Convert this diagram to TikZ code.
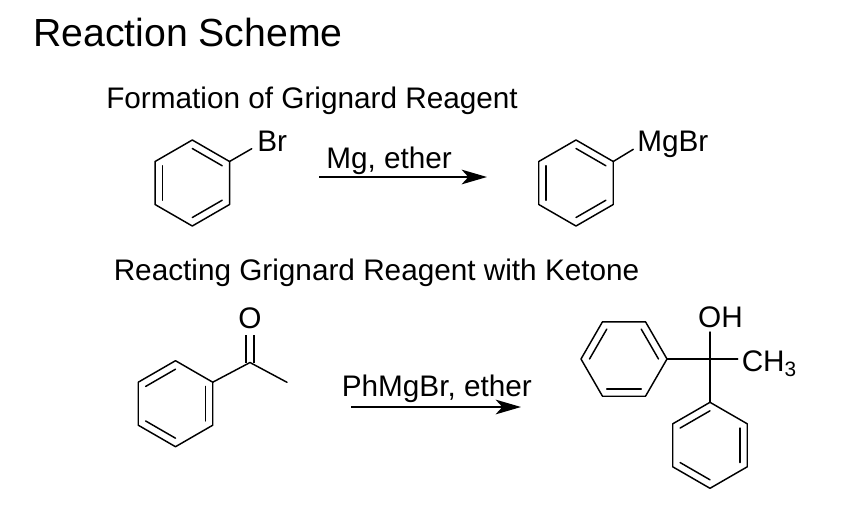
\documentclass[tikz,border=0pt]{standalone}
\usepackage{fontspec}
\setmainfont{Liberation Sans}
\usetikzlibrary{arrows.meta,calc}

% six-membered ring: name, start angle, inner double bonds
\newcommand{\phring}[3]{
\foreach \i in {1,...,6} {
\coordinate (#1\i) at ($(#1)+(#2+60*\i:43)$);
\coordinate (#1i\i) at ($(#1)+(#2+60*\i:34.5)$);
}
\draw[bond] (#11)--(#12)--(#13)--(#14)--(#15)--(#16)--cycle;
\foreach \i/\j in {#3} \draw[bond] (#1i\i)--(#1i\j);
}

\begin{document}
\begin{tikzpicture}
[x=.75pt,y=-.75pt,
bond/.style={line width=1.1pt,line cap=round,line join=round},
reaction/.style={line width=1.5pt,-{Stealth[length=19pt,width=11pt,inset=5pt]}},
label/.style={inner sep=0pt,anchor=base west,font=\fontsize{22.3pt}{26pt}\selectfont},
heading/.style={label},
title/.style={inner sep=0pt,anchor=base west,font=\fontsize{29.4pt}{34pt}\selectfont}]
\useasboundingbox (0,0) rectangle (854,522);

\node[title] (scheme) at (33,46) {Reaction Scheme};
\node[heading] (formation) at (106,108) {Formation of Grignard Reagent};
\node[heading] (reacting) at (113.5,280) {Reacting Grignard Reagent with Ketone};

% bromobenzene
\coordinate (a) at (192.3,183);
\phring{a}{30}{6/1,2/3,4/5}
\node[label] (br) at (257,151) {Br};
\coordinate (abond) at (251.7,148.7);
\draw[bond] (a5)--(abond);

% first arrow
\coordinate (r1) at (319,177);
\coordinate (r2) at (487,177);
\draw[reaction] (r1)--(r2);
\node[label] (mg) at (326,168) {Mg, ether};

% grignard reagent
\coordinate (b) at (576,183);
\phring{b}{30}{6/1,2/3,4/5}
\node[label] (mgbr) at (637,151) {MgBr};
\coordinate (bbond) at (633.3,149.3);
\draw[bond] (b5)--(bbond);

% ketone
\coordinate (k) at (175.5,403.7);
\coordinate (co) at (250,362.5);
\coordinate (me) at (287,382.3);
\node[label,anchor=base] (oxy) at (250,328) {O};
\draw[bond,line cap=butt,double,double distance=5pt,shorten >=5pt] (co)--(oxy);
\phring{k}{30}{5/6,1/2,3/4}
\draw[bond] (k5)--(co)--(me);

% second arrow
\coordinate (s1) at (351,407);
\coordinate (s2) at (521,407);
\draw[reaction] (s1)--(s2);
\node[label] (phmg) at (341.5,396) {PhMgBr, ether};

% alcohol
\coordinate (c) at (624,359);
\coordinate (d) at (710,445.3);
\coordinate (e) at (710,359);
\phring{c}{0}{3/4,5/6,1/2}
\phring{d}{30}{5/6,1/2,3/4}
\node[label,anchor=base] (oh) at (720.5,327) {OH};
\node[label] (me3) at (741.5,371) {CH\textsubscript{3}};
\coordinate (ebond1) at (710,332);
\coordinate (ebond2) at (737.7,359);
\draw[bond] (c6)--(e)--(d4);
\draw[bond] (ebond1)--(e)--(ebond2);
\end{tikzpicture}
\end{document}
